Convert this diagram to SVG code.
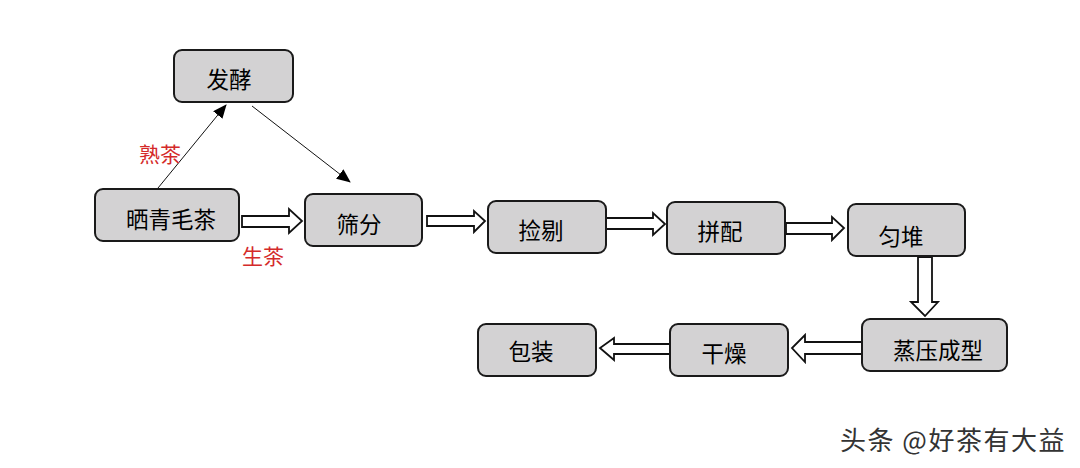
<svg xmlns="http://www.w3.org/2000/svg" width="1080" height="468" viewBox="0 0 1080 468">
<defs>
<style>
.box{fill:#d3d2d3;stroke:#1a1a1a;stroke-width:2}
.t{font-family:"Noto Sans CJK SC","Noto Sans CJK JP",sans-serif;font-size:22.5px;fill:#000;text-anchor:middle;dominant-baseline:central}
.lbl{font-family:"Noto Sans CJK SC",serif;font-size:21px;fill:#d42a2a;text-anchor:middle;dominant-baseline:central}
.blk{fill:#fff;stroke:#111;stroke-width:1.8;stroke-linejoin:miter}
.thin{stroke:#111;stroke-width:1;fill:none;marker-end:url(#ah)}
.wm{font-family:"Noto Sans CJK SC",sans-serif;font-size:26px;fill:#333;dominant-baseline:central}
</style>
<marker id="ah" markerWidth="14" markerHeight="12" refX="13" refY="6" orient="auto" markerUnits="userSpaceOnUse">
<path d="M0,0 L14,6 L0,12 Z" fill="#000"/>
</marker>
</defs>
<rect width="1080" height="468" fill="#fff"/>
<g id="connectors">
<line class="thin" x1="158" y1="188" x2="226" y2="105"/>
<line class="thin" x1="252" y1="106" x2="350" y2="182"/>
<path class="blk" d="M242,216 L289,216 L289,209 L302,221 L289,233 L289,227 L242,227 Z"/>
<path class="blk" d="M427,216 L474,216 L474,211 L485,221 L474,232 L474,226 L427,226 Z"/>
<path class="blk" d="M606,218 L653,218 L653,213 L665,224 L653,235 L653,229 L606,229 Z"/>
<path class="blk" d="M786,223 L832,223 L832,217 L844,228 L832,240 L832,234 L786,234 Z"/>
<path class="blk" d="M918,257 L932,257 L932,302 L938,302 L925,316 L911,302 L918,302 Z"/>
<path class="blk" d="M862,342 L805,342 L805,335 L792,348 L805,362 L805,354 L862,354 Z"/>
<path class="blk" d="M670,344 L614,344 L614,338 L600,348 L614,360 L614,354 L670,354 Z"/>
</g>
<g id="label-shucha"><text class="lbl" x="160" y="153">熟茶</text></g>
<g id="label-shengcha"><text class="lbl" x="263" y="255">生茶</text></g>
<g id="node-fajiao"><rect class="box" x="174" y="50" width="119" height="52" rx="8"/><text class="t" x="229" y="78">发酵</text></g>
<g id="node-shaiqing"><rect class="box" x="95" y="189" width="144" height="52" rx="8"/><text class="t" x="171" y="218">晒青毛茶</text></g>
<g id="node-shaifen"><rect class="box" x="305" y="194" width="117" height="52" rx="8"/><text class="t" x="359" y="223">筛分</text></g>
<g id="node-jianti"><rect class="box" x="488" y="201" width="118" height="52" rx="8"/><text class="t" x="541" y="229">捡剔</text></g>
<g id="node-pinpei"><rect class="box" x="667" y="202" width="118" height="52" rx="8"/><text class="t" x="720" y="230">拼配</text></g>
<g id="node-yundui"><rect class="box" x="848" y="204" width="117" height="52" rx="8"/><text class="t" x="901" y="235">匀堆</text></g>
<g id="node-zhengya"><rect class="box" x="862" y="319" width="145" height="52" rx="8"/><text class="t" x="938" y="349">蒸压成型</text></g>
<g id="node-ganzao"><rect class="box" x="670" y="324" width="118" height="52" rx="8"/><text class="t" x="724" y="352">干燥</text></g>
<g id="node-baozhuang"><rect class="box" x="478" y="324" width="118" height="52" rx="8"/><text class="t" x="531" y="350">包装</text></g>
<g id="watermark"><text class="wm" x="840" y="438" letter-spacing="1.5">头条 @好茶有大益</text></g>
</svg>
